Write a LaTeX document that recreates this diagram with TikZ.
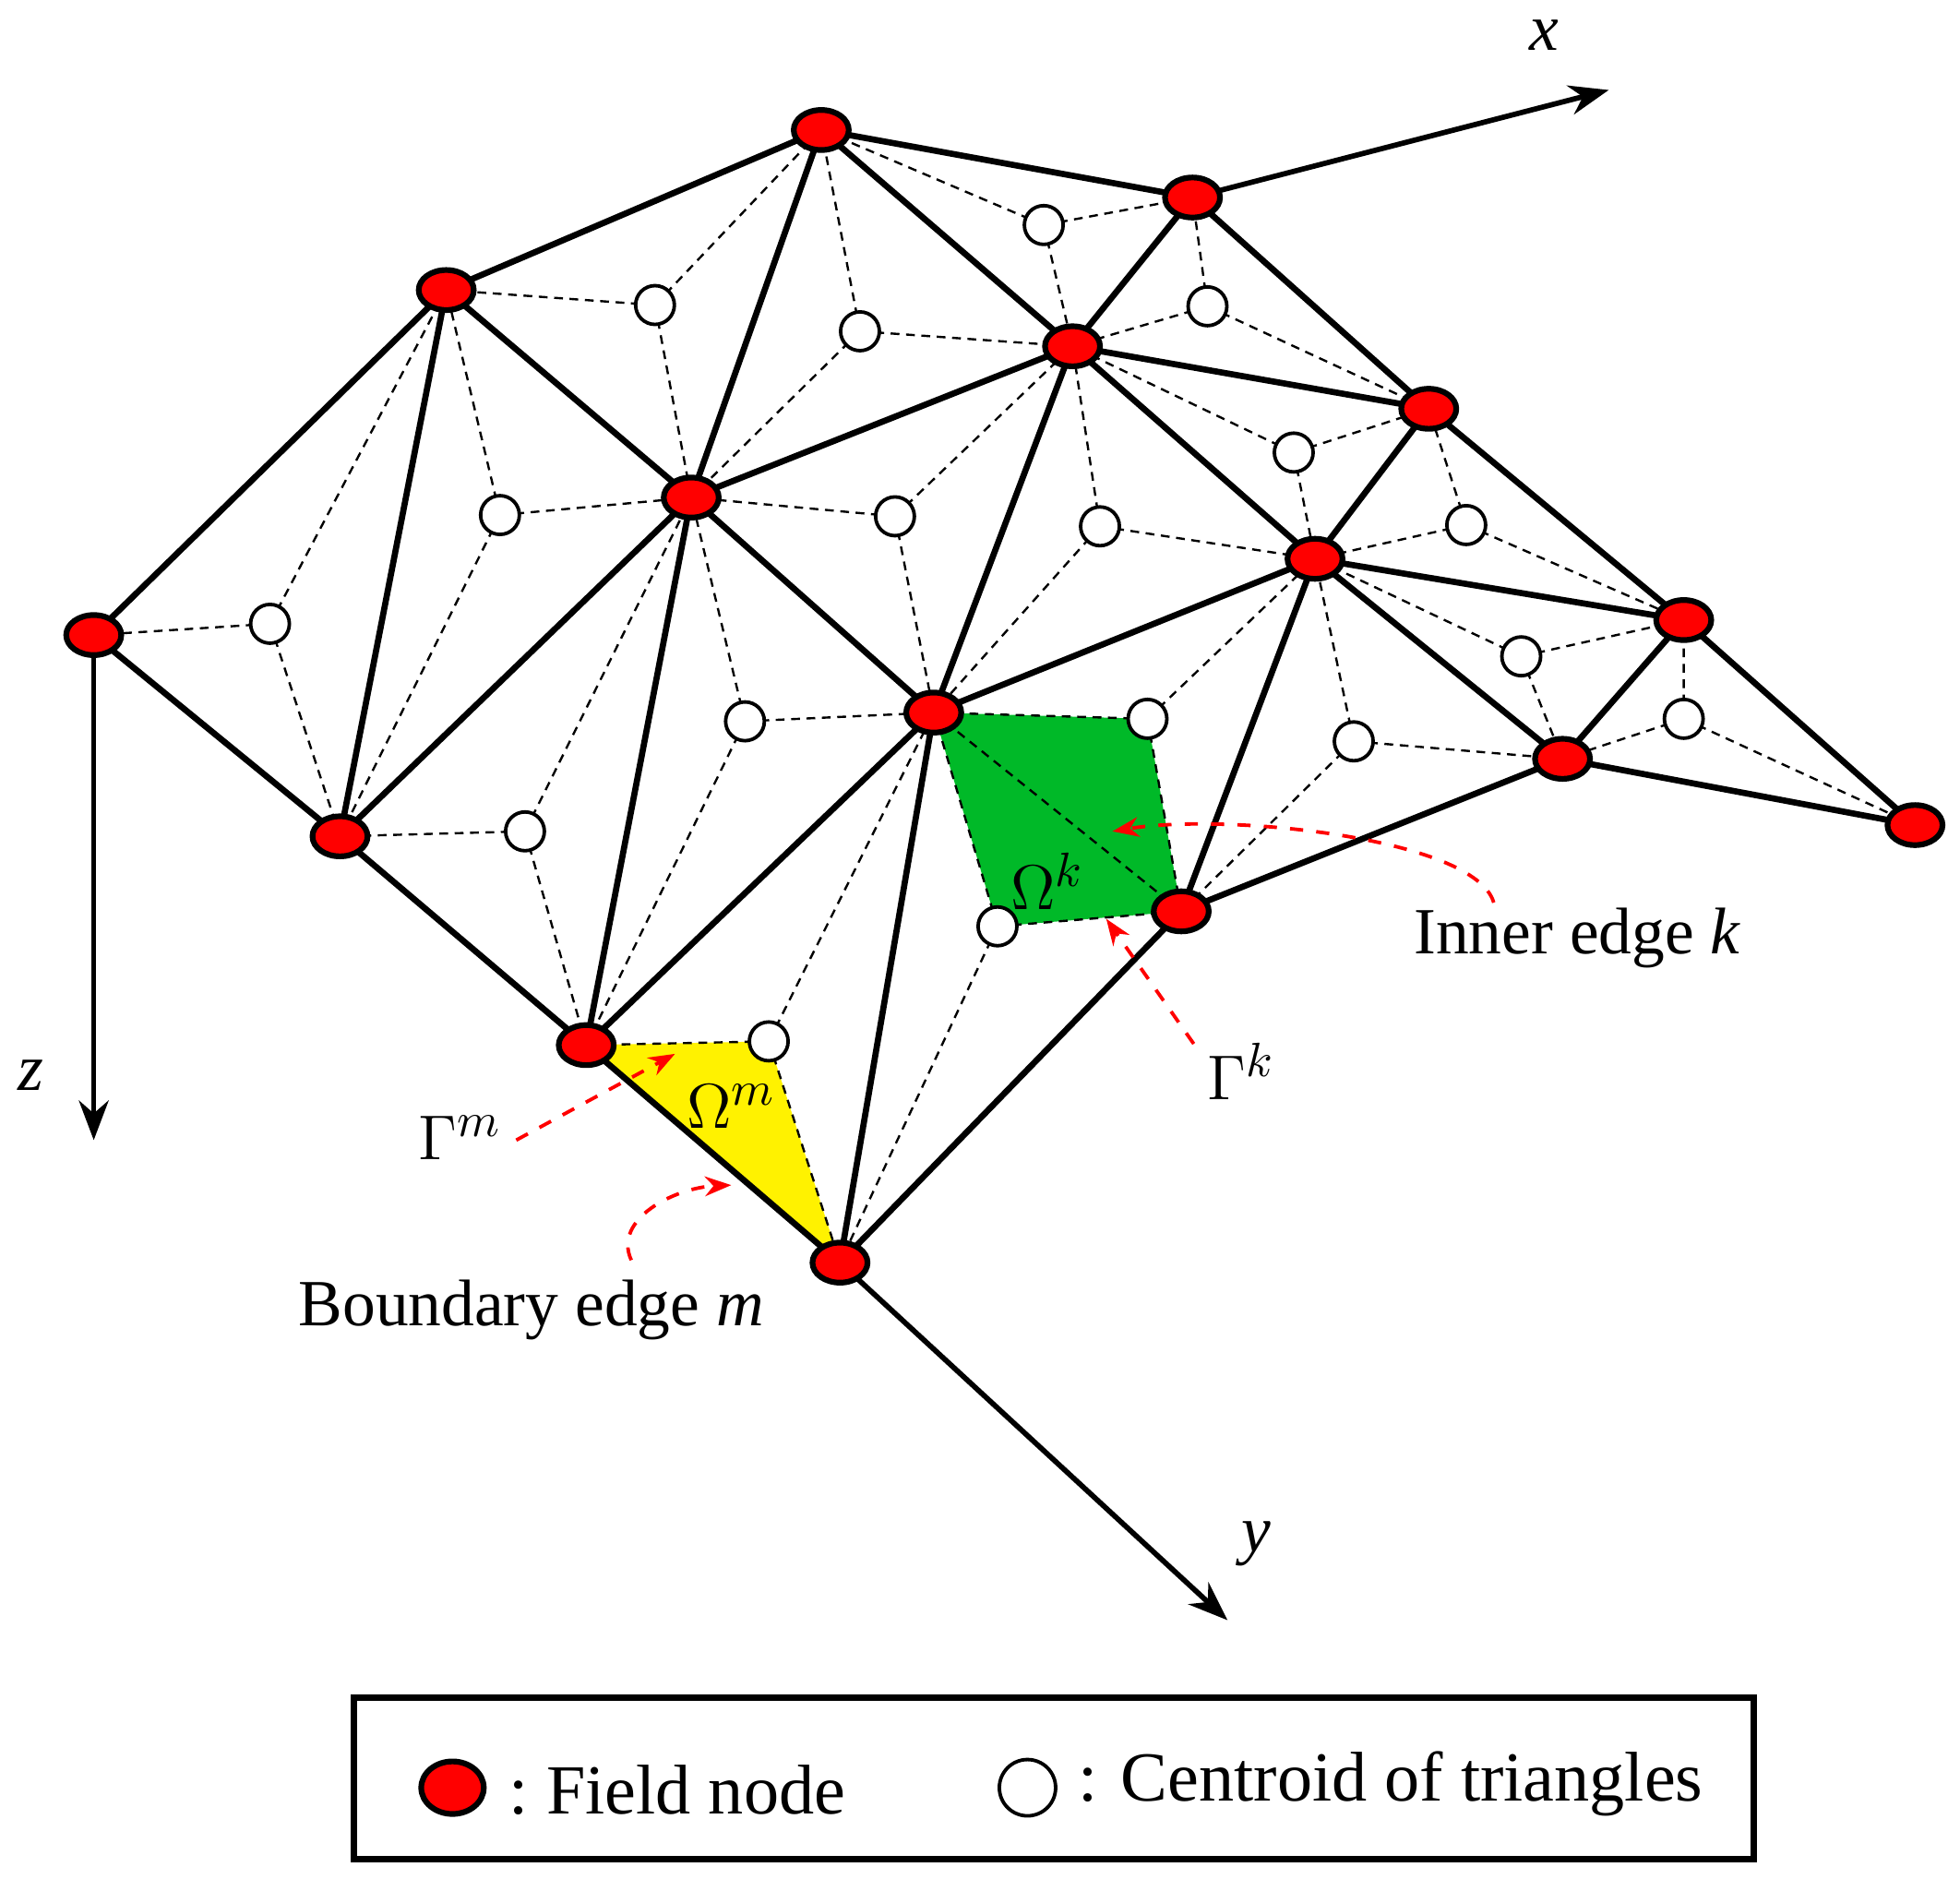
\documentclass[tikz,border=0pt]{standalone}
\usepackage{fontspec}
\setmainfont{Liberation Serif}
\usetikzlibrary{arrows.meta,shapes.geometric}
\definecolor{gfill}{RGB}{0,185,40}
\begin{document}
\begin{tikzpicture}[x=0.01cm,y=-0.01cm,
 fn/.style={ellipse,draw=black,line width=1.3pt,fill=red,minimum width=0.44cm,minimum height=0.32cm,inner sep=0pt},
 cn/.style={circle,draw=black,line width=0.8pt,fill=white,minimum size=0.31cm,inner sep=0pt},
 ed/.style={line width=1.4pt},
 dl/.style={dashed,line width=0.5pt,dash pattern=on 2pt off 1.5pt},
 rarr/.style={red,dashed,line width=0.8pt,-{Stealth[length=6pt]}},
 ax/.style={line width=1.2pt,-{Stealth[length=9pt]}},
 lab/.style={font=\fontsize{15}{17}\selectfont}]
\useasboundingbox (0,0) rectangle (1568,1503);
\coordinate (A) at (75,508); \coordinate (B) at (357,232); \coordinate (C) at (657,104);
\coordinate (D) at (954,158); \coordinate (E) at (858,277); \coordinate (F) at (1143,327);
\coordinate (G) at (553,398); \coordinate (H) at (1052,447); \coordinate (I) at (1347,496);
\coordinate (J) at (747,570); \coordinate (K) at (1250,607); \coordinate (L) at (1532,660);
\coordinate (M) at (272,669); \coordinate (N) at (945,729); \coordinate (O) at (469,836);
\coordinate (P) at (672,1010);
\coordinate (c1) at (216,499); \coordinate (c2) at (400,412); \coordinate (c3) at (524,244);
\coordinate (c4) at (688,265); \coordinate (c5) at (835,180); \coordinate (c6) at (966,245);
\coordinate (c7) at (716,413); \coordinate (c8) at (880,421); \coordinate (c9) at (1035,362);
\coordinate (c10) at (1173,420); \coordinate (c11) at (1217,525); \coordinate (c12) at (1347,575);
\coordinate (c13) at (1083,593); \coordinate (c14) at (918,575); \coordinate (c15) at (420,665);
\coordinate (c16) at (596,577); \coordinate (c17) at (615,833); \coordinate (c18) at (798,741);
\fill[gfill] (J) -- (c14) -- (N) -- (c18) -- cycle;
\fill[yellow] (O) -- (c17) -- (P) -- cycle;
\foreach \c/\a/\b/\d in {c1/A/B/M,c2/B/G/M,c3/B/C/G,c4/C/G/E,c5/C/E/D,c6/D/E/F,c7/G/E/J,c8/E/H/J,c9/E/F/H,c10/F/H/I,c11/H/I/K,c12/I/K/L,c13/H/K/N,c14/H/J/N,c15/G/M/O,c16/G/J/O,c17/J/O/P,c18/J/N/P}
 \draw[dl] (\c) -- (\a) (\c) -- (\b) (\c) -- (\d);
\draw[dl] (J) -- (N);
\draw[ax] (A) -- (75,912);
\draw[ax] (D) -- (1287,72);
\draw[ax] (P) -- (982,1296);
\draw[ed] (A)--(B) (A)--(M) (B)--(C) (B)--(M) (B)--(G) (C)--(G) (C)--(E) (C)--(D)
 (D)--(E) (D)--(F) (E)--(F) (E)--(G) (E)--(J) (E)--(H) (F)--(H) (F)--(I)
 (G)--(M) (G)--(J) (G)--(O) (H)--(J) (H)--(N) (H)--(K) (H)--(I) (I)--(K) (I)--(L)
 (K)--(L) (K)--(N) (J)--(O) (J)--(P) (M)--(O) (O)--(P) (P)--(N);
\foreach \n in {A,B,C,D,E,F,G,H,I,J,K,L,M,N,O,P} \node[fn] (n\n) at (\n) {};
\foreach \n in {1,...,18} \node[cn] (nc\n) at (c\n) {};
\node[lab] (ok) at (838,705) {$\Omega^k$};
\node[lab] (om) at (585,885) {$\Omega^m$};
\node[lab] (gm) at (368,910) {$\Gamma^m$};
\node[lab] (gk) at (993,857) {$\Gamma^k$};
\node[lab] (ie) at (1262,750) {Inner edge \textit{k}};
\node[lab] (be) at (425,1048) {Boundary edge \textit{m}};
\node[lab] (lx) at (1235,28) {\textit{x}};
\node[lab] (ly) at (1005,1235) {\textit{y}};
\node[lab] (lz) at (25,860) {\textit{z}};
\coordinate (t1) at (890,665); \coordinate (t2) at (885,735);
\coordinate (t3) at (540,843); \coordinate (t4) at (585,948);
\draw[rarr] (1195,722) .. controls (1180,670) and (980,650) .. (t1);
\draw[rarr] (955,835) -- (t2);
\draw[rarr] (413,912) -- (t3);
\draw[rarr] (505,1008) .. controls (490,975) and (540,950) .. (t4);
\draw[line width=1.4pt] (283,1358) rectangle (1403,1487);
\node[fn,minimum width=0.5cm,minimum height=0.42cm] (lf) at (362,1430) {};
\node[font=\fontsize{16}{18}\selectfont,anchor=west] (lft) at (395,1432) {:\ Field node};
\node[cn,minimum size=0.45cm] (lc) at (822,1430) {};
\node[font=\fontsize{16}{18}\selectfont,anchor=west] (lct) at (850,1427) {: Centroid of triangles};
\end{tikzpicture}
\end{document}
